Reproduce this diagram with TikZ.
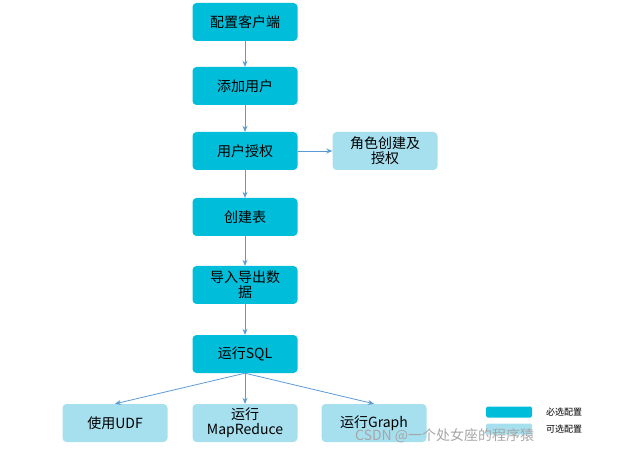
\documentclass[tikz,border=0pt]{standalone}
\usepackage{fontspec}
\setmainfont{Noto Sans CJK SC}
\usetikzlibrary{arrows.meta}
\definecolor{dark}{RGB}{0,190,218}
\definecolor{light}{RGB}{166,223,238}
\definecolor{arr}{RGB}{91,155,213}
\begin{document}
\begin{tikzpicture}[x=1pt,y=-1pt,
  box/.style={fill=dark,rounded corners=4pt,minimum width=105pt,minimum height=38pt,inner sep=1pt,align=center,font=\fontsize{14}{15}\selectfont,text=black},
  lbox/.style={box,fill=light},
  conn/.style={draw=arr,line width=0.8pt,-{Stealth[length=6pt,width=5pt]}}]
\useasboundingbox (0,0) rectangle (621,454);
\node[box] (a) at (245,22) {配置客户端};
\node[box] (b) at (245,86) {添加用户};
\node[box] (c) at (245,151) {用户授权};
\node[lbox] (r) at (385,151) {角色创建及\\授权};
\node[box] (d) at (245,217) {创建表};
\node[box] (e) at (245,285) {导入导出数\\据};
\node[box] (f) at (245,354) {运行SQL};
\node[lbox] (g) at (115,423) {使用UDF};
\node[lbox] (h) at (245,423) {运行\\MapReduce};
\node[lbox] (i) at (374,423) {运行Graph};
\draw[conn] (a) -- (b);
\draw[conn] (b) -- (c);
\draw[conn] (c) -- (r);
\draw[conn] (c) -- (d);
\draw[conn] (d) -- (e);
\draw[conn] (e) -- (f);
\draw[conn] (f.south) -- (g.north);
\draw[conn] (f.south) -- (h.north);
\draw[conn] (f.south) -- (i.north);
\node[fill=dark,rounded corners=1.5pt,minimum width=46pt,minimum height=11pt,inner sep=0pt] (l1) at (509,412) {};
\node[fill=light,rounded corners=1.5pt,minimum width=46pt,minimum height=11pt,inner sep=0pt] (l2) at (509,429) {};
\node[anchor=west,font=\fontsize{9}{10}\selectfont,inner sep=0pt] (t1) at (546,412) {必选配置};
\node[anchor=west,font=\fontsize{9}{10}\selectfont,inner sep=0pt] (t2) at (546,429) {可选配置};
\node[anchor=west,font=\fontsize{14}{15}\selectfont,text=gray!70,inner sep=0pt] (wm) at (355,436) {CSDN @一个处女座的程序猿};
\end{tikzpicture}
\end{document}
